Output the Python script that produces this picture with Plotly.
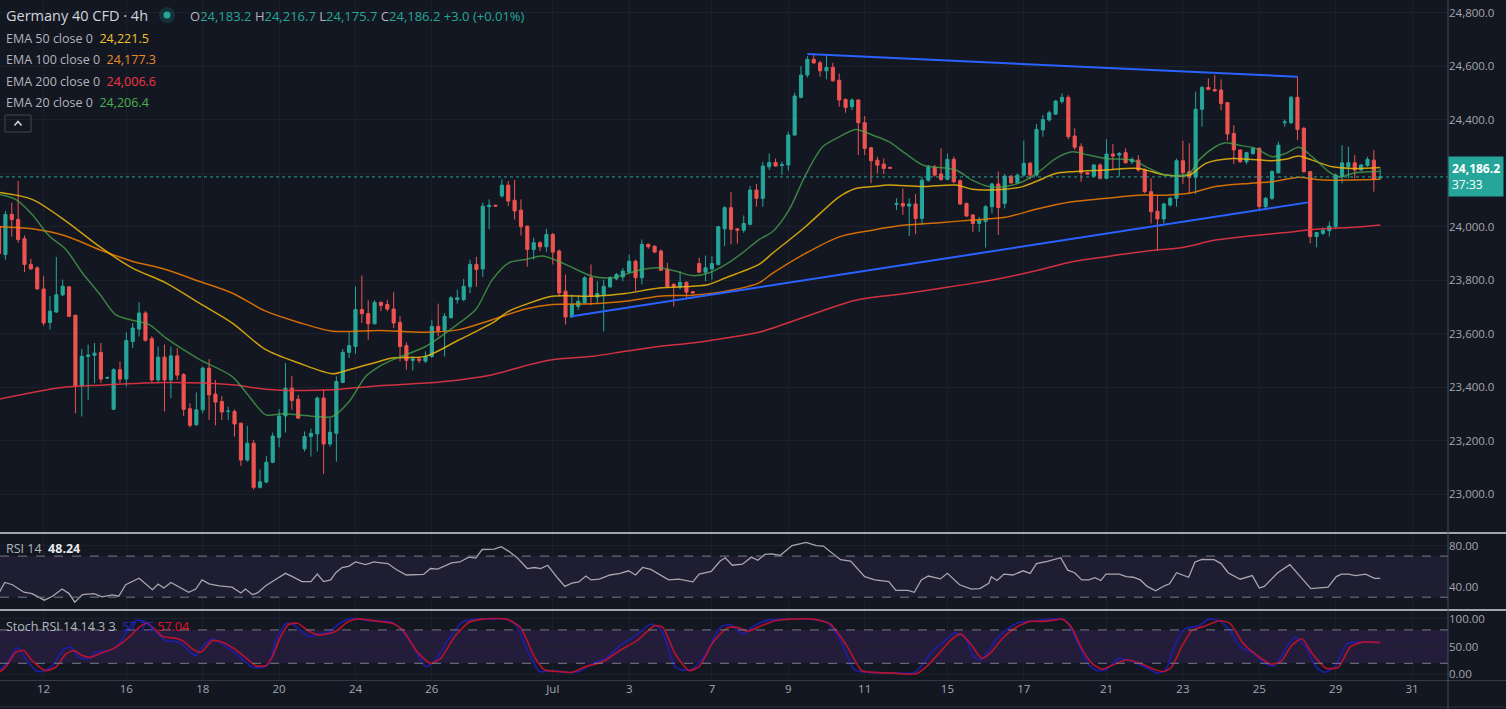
import plotly.graph_objects as go

W, H = 1506, 709

# ---------------- data ----------------
opens = [24002,23896,24046,24027,23955,23859,23846,23767,23642,23681,23745,23775,23669,23405,23515,23519,23530,23434,23317,23465,
         23430,23571,23617,23677,23581,23427,23512,23427,23517,23447,23319,23259,23315,23471,23374,23346,23309,23309,23265,23127,
         23190,23025,23045,23119,23212,23292,23396,23355,23169,23215,23225,23359,23187,23227,23417,23530,23552,23690,23675,23637,
         23717,23709,23692,23642,23555,23500,23505,23497,23515,23627,23612,23659,23727,23727,23775,23859,23842,24075,24080,24115,
         24155,24099,24062,24002,23915,23940,23925,23971,23909,23759,23662,23702,23715,23809,23737,23746,23775,23805,23812,23830,
         23871,23809,23934,23927,23909,23840,23784,23775,23792,23757,23862,23830,23842,23859,23992,24071,23992,23987,24009,24137,
         24106,24224,24240,24229,24231,24343,24484,24567,24626,24613,24583,24596,24548,24476,24449,24474,24389,24295,24249,24234,
         24222,24083,24087,24077,24085,24031,24174,24222,24197,24177,24252,24172,24087,24044,24012,24019,24075,24160,24087,24189,
         24164,24193,24237,24193,24362,24399,24421,24468,24484,24339,24299,24202,24189,24231,24181,24272,24268,24277,24243,24249,
         24212,24131,24058,24029,24081,24106,24247,24206,24185,24439,24521,24513,24511,24464,24349,24287,24243,24274,24293,24075,
         24106,24202,24389,24389,24484,24368,24206,23963,23975,23985,24000,24187,24224,24239,24212,24229,24249,24183.2]
highs = [24015,24059,24090,24171,23967,23880,23852,23815,23740,23887,23802,23777,23669,23542,23559,23565,23565,23440,23471,23496,
         23605,23640,23717,23684,23590,23552,23559,23552,23546,23452,23340,23380,23477,23505,23427,23367,23327,23317,23267,23255,
         23202,23092,23142,23230,23317,23490,23442,23371,23234,23245,23365,23392,23284,23440,23542,23605,23777,23817,23725,23725,
         23721,23727,23755,23665,23567,23515,23515,23534,23652,23712,23677,23740,23765,23805,23877,23887,24090,24102,24082,24177,
         24171,24175,24102,24005,23959,23946,23992,23977,23915,23821,23746,23742,23815,23859,23796,23802,23815,23827,23846,23896,
         23877,23952,23937,23930,23915,23865,23790,23834,23796,23757,23884,23892,23890,24002,24077,24130,23992,24042,24152,24160,
         24243,24274,24255,24243,24355,24501,24601,24638,24642,24621,24638,24613,24573,24480,24480,24476,24414,24299,24262,24255,
         24224,24106,24143,24106,24122,24187,24231,24231,24293,24274,24262,24177,24090,24047,24037,24081,24164,24206,24197,24193,
         24199,24322,24243,24384,24418,24434,24474,24499,24492,24368,24312,24205,24234,24237,24327,24309,24280,24293,24259,24268,
         24218,24181,24119,24090,24112,24255,24322,24312,24505,24526,24555,24567,24551,24467,24380,24289,24280,24299,24297,24112,
         24212,24318,24401,24489,24563,24374,24209,23981,23997,24019,24199,24305,24299,24268,24235,24262,24287,24216.7]
lows = [23865,23877,23962,23940,23830,23840,23765,23630,23615,23677,23740,23662,23302,23290,23352,23415,23415,23430,23315,23415,
        23402,23546,23590,23570,23420,23415,23309,23359,23427,23292,23249,23255,23302,23277,23257,23277,23277,23215,23105,23121,
        23017,23021,23040,23115,23175,23230,23315,23280,23159,23140,23159,23075,23177,23121,23415,23509,23525,23640,23577,23634,
        23684,23684,23621,23496,23465,23462,23490,23490,23509,23590,23515,23659,23712,23721,23752,23775,23812,23990,24075,24109,
        24077,24027,23967,23850,23877,23909,23906,23859,23740,23634,23662,23690,23712,23706,23712,23609,23771,23800,23796,23825,
        23759,23784,23917,23902,23834,23771,23702,23765,23734,23750,23827,23796,23802,23855,23927,23934,23937,23977,24005,24075,
        24075,24212,24224,24193,24209,24339,24480,24558,24608,24561,24551,24542,24449,24426,24436,24268,24268,24162,24199,24197,
        24218,24062,24044,23965,23972,24006,24168,24187,24172,24174,24162,24081,24037,23981,23981,23922,24050,23969,24068,24160,
        24162,24187,24177,24187,24337,24393,24418,24461,24327,24287,24168,24195,24187,24177,24177,24214,24187,24237,24234,24206,
        24125,24012,23910,24012,24075,24075,24160,24125,24122,24374,24511,24505,24436,24322,24234,24239,24234,24268,24062,24062,
        24100,24199,24374,24384,24324,24202,23938,23923,23969,23963,23994,24162,24181,24181,24209,24224,24131,24175.7]
closes = [23900,24046,24027,23952,23859,23842,23767,23640,23684,23745,23777,23665,23405,23515,23520,23527,23430,23435,23465,23430,
          23574,23621,23677,23575,23427,23512,23427,23517,23445,23317,23257,23315,23471,23371,23344,23307,23310,23262,23127,23190,
          23025,23046,23119,23217,23292,23396,23350,23284,23215,23227,23359,23187,23231,23421,23530,23555,23690,23675,23637,23717,
          23705,23692,23640,23552,23500,23505,23500,23515,23627,23612,23665,23734,23734,23777,23859,23840,24077,24080,24077,24155,
          24096,24059,24000,23915,23940,23925,23971,23905,23752,23662,23709,23721,23809,23740,23750,23777,23809,23821,23834,23871,
          23809,23934,23925,23905,23837,23777,23777,23792,23755,23752,23830,23846,23862,24000,24071,23990,23987,24012,24137,24106,
          24227,24240,24227,24232,24343,24489,24567,24626,24613,24583,24596,24546,24474,24446,24474,24389,24293,24247,24230,24218,
          24219,24086,24077,24085,24031,24174,24222,24193,24177,24252,24168,24085,24040,24012,24025,24075,24160,24072,24189,24164,
          24193,24237,24193,24364,24401,24426,24470,24484,24337,24297,24202,24197,24231,24181,24272,24264,24274,24239,24252,24212,
          24131,24056,24029,24085,24106,24247,24202,24185,24439,24521,24513,24508,24461,24347,24287,24243,24277,24293,24075,24106,
          24206,24305,24392,24484,24364,24206,23963,23978,23987,24002,24193,24239,24239,24212,24231,24252,24177,24186.2]

# moving averages read at sample bars
ema20_x = [0,2.6,5.2,7.9,10.5,13.1,15.7,18.3,20.9,23.6,26.2,31.4,36.6,39.3,41.9,44.5,47.1,49.7,52.4,55,57.6,59.7,61.8,67,72.3,74.9,
           77.5,80.1,82.7,85.4,89,93.2,96.3,101,103.7,106.3,108.9,111.5,114.2,116.8,119.4,121.5,124.1,126.7,129.4,132,134.6,137.2,139.8,
           142.4,145.1,150.3,152.9,155.5,158.1,160.8,163.4,166,168.6,171.2,173.9,178.1,180.7,183.3,187,188.5,191.1,192.7,194.8,197.4,200,
           202.1,204.2,206.3,208.9,210.5,213.1,215.2,217]
ema20_v = [24121,24102,24046,23965,23915,23827,23752,23671,23650,23634,23584,23505,23440,23365,23296,23300,23296,23290,23290,23346,
           23440,23477,23502,23552,23640,23690,23802,23865,23877,23890,23859,23815,23809,23840,23846,23834,23817,23827,23859,23902,23952,
           23981,24062,24193,24299,24336,24364,24343,24318,24274,24231,24212,24174,24150,24150,24168,24206,24255,24280,24268,24255,24249,
           24218,24193,24199,24249,24299,24314,24305,24293,24262,24274,24297,24262,24206,24187,24202,24206,24206.4]
ema50_x = [0,5.2,10.5,15.7,20.9,26.2,31.4,36.6,41.9,47.1,52.4,55,59.7,61.8,67,72.3,77.5,80.1,82.7,86.9,93.2,98.4,103.7,108.9,111.5,
           114.2,119.4,121.5,126.7,132,134.6,137.2,139.8,145.1,150.3,152.9,155.5,158.1,160.8,163.4,166,168.6,173.9,179,183.3,187,189.6,
           193.8,196.4,200,202.1,204.2,206.3,209.5,212.6,217]
ema50_v = [24128,24102,24021,23927,23846,23790,23715,23640,23540,23490,23450,23465,23496,23509,23515,23577,23640,23684,23709,23740,
           23740,23750,23771,23777,23784,23809,23859,23900,24000,24112,24143,24150,24156,24150,24156,24140,24137,24140,24150,24174,24199,
           24206,24212,24218,24193,24193,24237,24255,24252,24247,24252,24264,24249,24224,24218,24221.5]
ema100_x = [0,5.2,10.5,15.7,20.9,26.2,31.4,36.6,41.9,47.1,52.4,59.7,67,72.3,77.5,82.7,86.9,93.2,98.4,103.7,108.9,114.2,119.4,121.5,
            126.7,132,137.2,142.4,147.7,152.9,158.1,163.4,168.6,173.9,179,183.3,187,191.1,196.4,200,204.2,206.9,209.5,217]
ema100_v = [24000,23992,23965,23915,23871,23840,23796,23752,23684,23642,23609,23612,23605,23615,23652,23692,23709,23712,23721,23740,
            23744,23759,23790,23825,23900,23962,23987,24006,24015,24025,24035,24068,24093,24106,24118,24118,24125,24150,24162,24168,
            24185,24177,24174,24177.3]
ema200_x = [0,5.2,10.5,15.7,26.2,36.6,41.9,47.1,52.4,59.7,67,72.3,77.5,82.7,86.9,93.2,98.4,103.7,108.9,114.2,119.4,134.6,142.4,147.7,
            152.9,158.1,163.4,168.6,173.9,180.7,185.9,191.1,196.4,201.6,206.9,212.1,217]
ema200_v = [23355,23380,23400,23407,23417,23409,23392,23387,23390,23405,23415,23427,23446,23480,23502,23515,23534,23552,23565,23584,
            23605,23725,23750,23769,23788,23810,23838,23869,23888,23910,23922,23950,23965,23977,23990,23997,24006.6]

# trend lines drawn on the chart
trend_upper_x = [127, 204]
trend_upper_v = [24646, 24561]
trend_lower_x = [90, 205.7]
trend_lower_v = [23665, 24091]

# RSI 14
rsi_x = [0,0.9,2.1,3.9,5.2,7.1,8.4,9.9,11,11.9,13.1,14.9,16.2,17.8,18.8,19.9,22,24.1,25,25.9,27,28.5,29.8,30.9,31.9,33,34.6,36.6,38,
         38.7,39.8,40.6,41.9,43.5,45,46.1,47.6,49,50,51,52.1,52.9,53.9,55,56,57.6,58.9,
         59.7,61.1,62.4,64.0,66.7,67.8,68.9,71.1,72.4,73.8,74.9,75.9,77.8,78.9,80.3,81.3,83.0,84.1,85.1,86.2,87.8,88.9,90.0,91.1,92.2,
         93.0,94.3,96.0,97.6,98.9,100.0,101.1,102.4,103.5,105.2,106.8,107.9,109.0,110.0,111.9,113.3,114.1,115.2,116.8,118.2,119.2,120.3,
         121.4,122.7,124.6,126.8,128.4,129.5,132.2,133.8,136.0,137.6,139.8,140.9,
         142.8,143.8,144.9,146.0,147.9,149.0,150.9,152.8,154.1,155.5,155.9,156.8,157.9,159.3,160.9,162.0,163.0,164.7,166.3,166.8,167.9,
         169.0,170.1,171.2,172.2,173.1,173.9,176.0,177.1,178.2,179.3,180.4,181.7,183.1,183.9,185.0,186.9,187.9,189.0,190.9,192.0,193.1,
         195.0,196.9,198.0,198.8,200.9,202.8,206.1,208.8,210.1,210.9,212.0,213.1,214.7,216.1,217]
rsi_v = [34.1,44.3,42.1,34.8,33.5,27.1,30.9,37.9,33.5,25.2,32.5,33.5,30.3,32.2,30.9,42.1,48.4,37.3,42.7,38.9,44.3,38.9,34.8,37.9,46.8,
         43.0,41.1,39.8,34.1,37.9,32.5,34.1,41.1,47.5,53.2,50.0,45.2,45.2,52.5,45.2,46.8,53.8,58.9,60.2,64.3,61.7,64.3,
         63.7,62.7,57.0,51.6,52.2,57.9,57.3,63.3,64.3,69.0,68.1,76.4,76.7,79.2,73.8,69.0,57.9,58.9,57.9,61.1,48.4,40.5,43.6,44.9,50.6,
         46.8,47.5,51.6,53.2,55.7,51.6,58.9,57.0,53.2,46.8,47.5,45.9,44.9,52.5,55.1,65.2,68.4,61.1,62.1,69.0,65.9,71.6,72.2,70.6,80.2,
         83.3,80.2,79.8,66.5,65.2,50.0,46.8,45.2,36.7,
         36.7,34.8,46.8,50.6,47.8,53.2,42.1,37.9,38.3,43.6,50.0,46.2,52.5,51.6,55.7,53.2,62.7,64.9,68.1,68.4,56.3,53.8,46.8,46.8,49.0,
         46.2,52.5,52.5,50.0,49.4,46.8,40.5,36.3,41.1,43.0,53.8,49.4,64.3,66.8,66.5,62.7,53.8,47.5,51.0,38.9,40.5,53.8,61.7,38.3,39.8,
         50.0,52.5,52.5,51.0,52.5,48.4,48.24]

# Stoch RSI 14 14 3 3 : %K (blue) and %D (red)
stoch_k_x = [0,1.3,2.9,4.2,5.8,6.8,8.4,10.2,11.3,12.6,13.9,15.2,17.3,18.6,20.2,21.5,22.5,23.6,24.9,26.2,28.3,29.8,30.9,31.9,33.5,35.1,
             36.6,38.2,39.8,41.4,42.4,43.5,45,46.1,47.1,48.7,50.3,51.8,53.4,55,56.3,58.1,
             59.7,61.3,62.9,65.1,67.0,68.4,70.5,72.7,74.9,77.6,79.7,81.3,83.0,84.9,86.8,88.9,91.1,93.3,95.4,97.6,99.7,102.5,104.1,106.2,
             107.3,108.9,111.1,113.3,114.9,116.8,118.7,120.9,123.6,127.3,130.1,132.2,134.4,136.5,139.8,
             141.4,143.6,144.6,146.8,148.4,150.1,151.7,153.0,154.1,155.2,156.6,158.2,160.3,163.0,165.2,166.8,167.9,169.5,171.2,172.5,
             173.9,176.0,178.2,180.4,182.0,183.3,184.7,186.3,188.5,190.1,191.7,193.4,195.0,197.1,198.8,200.4,202.0,203.6,205.3,206.9,
             208.2,209.9,211.8,213.9,217]
stoch_k_v = [6.8,21.8,48.8,27.8,6.8,5.6,15.8,45.8,48.8,30.8,27.8,39.8,42.8,51.8,78.8,96.8,96.8,89.6,72.8,60.8,57.8,42.8,33.8,48.8,
             63.8,54.8,42.8,27.8,12.8,12.8,18.8,60.8,90.8,90.8,81.8,68,72.8,75.8,90.8,99.8,99.8,96.8,
             95.3,95.3,84.7,49.4,14.1,23,61.2,93.5,99.4,99.4,99.4,87.6,43.5,5.3,7.1,3.6,5.3,20,28.8,52.4,67.1,90.6,78.8,14.1,8.3,9.4,
             37.7,84.7,89.4,72.9,87.6,97.6,99.4,99.4,93.5,61.2,8.3,3.6,2.4,
             2.4,2.4,11.2,43.5,58.2,74.1,67.1,34.7,25.9,37.7,61.2,80,93.5,96.5,99.4,100,93.5,55.3,17.1,7.1,8.3,28.8,23,11.2,2.4,8.3,
             52.4,81.8,87.6,99.4,96.5,78.8,49.4,37.7,20,15.3,43.5,67.1,49.4,14.1,3.6,14.1,55.3,58.2,57.75]
stoch_d_x = [0,1,2.6,3.9,5.2,7.3,8.9,10.5,11.8,13.1,14.4,15.7,17.8,19.1,20.7,22,23.3,24.6,25.7,27.5,28.8,30.4,31.7,33.5,35.1,36.6,
             38.7,40.3,41.9,42.9,44.2,45.5,46.9,48.4,50,51.6,53.1,54.7,56.3,58.1,
             59.7,61.9,63.5,65.7,67.8,69.4,71.6,73.8,75.9,79.7,81.9,84.1,85.7,87.8,90.0,92.2,94.9,97.6,100.3,103.0,104.3,106.2,108.4,
             110.0,112.2,114.4,116.0,117.6,119.8,121.9,124.6,127.9,130.6,133.3,135.5,137.6,140.9,
             141.4,144.1,145.7,147.9,149.5,151.1,152.8,154.4,155.7,157.6,159.8,162.0,164.1,165.8,167.1,168.5,170.1,171.7,173.3,175.0,
             177.1,179.3,181.4,183.1,184.2,185.8,187.4,189.6,191.7,193.4,195.5,197.6,199.8,201.4,203.1,204.7,206.3,208.5,210.4,212.3,
             214.2,217]
stoch_d_v = [3.8,12.8,39.8,42.8,24.8,6.8,12.8,36.8,42.8,33.8,30.8,36.8,45.8,54.8,69.8,84.8,92,80,68,65.6,60.8,45.8,39.8,60.8,57.8,
             48.8,30.8,15.8,15.8,30.8,66.8,89.6,92,80,71.6,72.8,78.8,93.8,99.8,98,
             95.3,91.8,78.8,40.6,20,28.8,68.2,93.5,99.4,99.4,84.7,31.8,8.3,5.3,3.6,14.1,23,43.5,61.2,87.6,84.7,37.7,7.1,14.1,58.2,83.5,
             84.7,77.6,87.6,96.5,99.4,99.4,90.6,49.4,7.1,3.6,2.4,
             1.2,1.2,14.1,40.6,61.2,72.9,52.4,28.8,37.7,64.1,84.7,95.3,95.3,97.6,99.4,84.7,46.5,20,9.4,17.1,25.9,20,9.4,5.3,12.9,49.4,
             78.8,87.6,96.5,91.8,55.3,34.7,18.8,23,52.4,64.1,37.7,11.2,12.9,49.4,58.2,57.04]

tick_idx = [7, 20, 32, 44, 56, 68, 87, 99, 112, 124, 136, 149, 161, 174, 186, 198, 210, 222]
tick_labels = ["12", "16", "18", "20", "24", "26", "Jul", "3", "7", "9", "11", "15", "17", "21", "23", "25", "29", "31"]

price_ticks = [23000, 23200, 23400, 23600, 23800, 24000, 24200, 24400, 24600, 24800]
last_price = 24186.2

# ---------------- styling ----------------
BG = "#131722"
GRID = "#1c202b"
TXT = "#a3a6af"
UP, DN = "#26a69a", "#ef5350"
FONT = "Open Sans, Noto Sans, sans-serif"

def px(x):
    return x / W

def py(y):
    return 1 - y / H

XR = 1448 / W
dom_main = [py(532), 1.0]
dom_rsi = [py(609), py(534)]
dom_sto = [py(680), py(611)]

bars = list(range(len(closes)))

fig = go.Figure()

fig.add_trace(go.Scatter(x=ema200_x, y=ema200_v, mode="lines", line=dict(color="rgba(242,54,69,0.85)", width=1.5, shape="spline", smoothing=0.8), hoverinfo="skip", yaxis="y"))
fig.add_trace(go.Scatter(x=ema100_x, y=ema100_v, mode="lines", line=dict(color="rgba(245,124,0,0.85)", width=1.5, shape="spline", smoothing=0.8), hoverinfo="skip", yaxis="y"))
fig.add_trace(go.Scatter(x=ema50_x, y=ema50_v, mode="lines", line=dict(color="rgba(240,185,11,0.85)", width=1.5, shape="spline", smoothing=0.8), hoverinfo="skip", yaxis="y"))
fig.add_trace(go.Scatter(x=ema20_x, y=ema20_v, mode="lines", line=dict(color="rgba(76,175,80,0.7)", width=1.5, shape="spline", smoothing=0.8), hoverinfo="skip", yaxis="y"))

fig.add_trace(go.Candlestick(
    x=bars, open=opens, high=highs, low=lows, close=closes,
    increasing=dict(line=dict(color=UP, width=1), fillcolor=UP),
    decreasing=dict(line=dict(color=DN, width=1), fillcolor=DN),
    whiskerwidth=0, yaxis="y", xaxis="x"))

fig.add_trace(go.Scatter(x=trend_upper_x, y=trend_upper_v, mode="lines", line=dict(color="#2962ff", width=2), hoverinfo="skip", yaxis="y"))
fig.add_trace(go.Scatter(x=trend_lower_x, y=trend_lower_v, mode="lines", line=dict(color="#2962ff", width=2), hoverinfo="skip", yaxis="y"))

fig.add_trace(go.Scatter(x=rsi_x, y=rsi_v, mode="lines", line=dict(color="#a9a6ad", width=1.3), hoverinfo="skip", yaxis="y2"))
fig.add_trace(go.Scatter(x=stoch_k_x, y=stoch_k_v, mode="lines", line=dict(color="#1d1da6", width=1.7, shape="spline", smoothing=0.6), hoverinfo="skip", yaxis="y3"))
fig.add_trace(go.Scatter(x=stoch_d_x, y=stoch_d_v, mode="lines", line=dict(color="#b3132f", width=1.7, shape="spline", smoothing=0.6), hoverinfo="skip", yaxis="y3"))

shapes = []
# indicator bands
shapes.append(dict(type="rect", xref="paper", x0=0, x1=XR, yref="y2", y0=30, y1=70, fillcolor="rgba(126,87,194,0.10)", line=dict(width=0), layer="below"))
shapes.append(dict(type="rect", xref="paper", x0=0, x1=XR, yref="y3", y0=20, y1=80, fillcolor="rgba(126,60,194,0.16)", line=dict(width=0), layer="below"))
for lvl in (30, 70):
    shapes.append(dict(type="line", xref="paper", x0=0, x1=XR, yref="y2", y0=lvl, y1=lvl, line=dict(color="#787b86", width=1, dash="dash")))
for lvl in (20, 80):
    shapes.append(dict(type="line", xref="paper", x0=0, x1=XR, yref="y3", y0=lvl, y1=lvl, line=dict(color="#787b86", width=1, dash="dash")))
# current price dotted line
shapes.append(dict(type="line", xref="paper", x0=0, x1=XR, yref="y", y0=last_price, y1=last_price, line=dict(color=UP, width=1, dash="dot")))
# pane separators / borders
shapes.append(dict(type="line", xref="paper", yref="paper", x0=0, x1=1, y0=py(533), y1=py(533), line=dict(color="#d6d7dc", width=1.5)))
shapes.append(dict(type="line", xref="paper", yref="paper", x0=0, x1=1, y0=py(610), y1=py(610), line=dict(color="#d6d7dc", width=1.5)))
shapes.append(dict(type="line", xref="paper", yref="paper", x0=0, x1=1, y0=py(680.5), y1=py(680.5), line=dict(color="#363a45", width=1)))
shapes.append(dict(type="line", xref="paper", yref="paper", x0=0, x1=1, y0=py(707), y1=py(707), line=dict(color="#2a2e39", width=1)))
shapes.append(dict(type="line", xref="paper", yref="paper", x0=XR, x1=XR, y0=0, y1=1, line=dict(color="#4a4e59", width=1)))
# header dot
shapes.append(dict(type="circle", xref="paper", yref="paper", x0=px(159), x1=px(175), y0=py(23), y1=py(7), fillcolor="rgba(38,166,154,0.18)", line=dict(width=0)))
shapes.append(dict(type="circle", xref="paper", yref="paper", x0=px(163.5), x1=px(170.5), y0=py(18.5), y1=py(11.5), fillcolor="#26a69a", line=dict(width=0)))
# collapse button
shapes.append(dict(type="rect", xref="paper", yref="paper", x0=px(5), x1=px(31), y0=py(132), y1=py(115), line=dict(color="#434651", width=1), fillcolor="rgba(0,0,0,0)"))
shapes.append(dict(type="path", xref="paper", yref="paper",
                   path=f"M {px(14.5)} {py(125.5)} L {px(18)} {py(121.5)} L {px(21.5)} {py(125.5)}",
                   line=dict(color="#d1d4dc", width=1.5)))

ann = []
def text(x, y, s, size=12.5, color=TXT, anchor="left"):
    ann.append(dict(xref="paper", yref="paper", x=px(x), y=py(y), text=s, showarrow=False,
                    xanchor=anchor, yanchor="middle", font=dict(family=FONT, size=size, color=color)))

text(4, 16, "Germany 40 CFD · 4h", size=14.5, color="#d1d4dc")
T = "#26a69a"
text(188, 16, f"O<span style='color:{T}'>24,183.2</span> H<span style='color:{T}'>24,216.7</span> "
              f"L<span style='color:{T}'>24,175.7</span> C<span style='color:{T}'>24,186.2</span> "
              f"<span style='color:{T}'>+3.0 (+0.01%)</span>", size=13, color="#b2b5be")
text(4, 38, "EMA 50 close 0  <span style='color:#f5c02c'>24,221.5</span>", color="#b2b5be")
text(4, 59.5, "EMA 100 close 0  <span style='color:#f08a24'>24,177.3</span>", color="#b2b5be")
text(4, 81, "EMA 200 close 0  <span style='color:#f23645'>24,006.6</span>", color="#b2b5be")
text(4, 102.5, "EMA 20 close 0  <span style='color:#4caf50'>24,206.4</span>", color="#b2b5be")
text(4, 548, "RSI 14  <span style='color:#e8e8ec'><b>48.24</b></span>", color="#b2b5be")
text(4, 626, "Stoch RSI 14 14 3 3  <span style='color:#2424c8'>57.75</span> <span style='color:#e0102e'>57.04</span>", color="#b2b5be")

# last price label on the axis
ann.append(dict(xref="paper", yref="y", x=XR, y=last_price, text="<b>24,186.2</b><br>37:33", showarrow=False,
                xanchor="left", yanchor="middle", align="left", bgcolor="#26a69a", borderpad=3,
                font=dict(family=FONT, size=12, color="#ffffff")))

axis_font = dict(family=FONT, size=11.5, color=TXT)
fig.update_layout(
    width=W, height=H, margin=dict(l=0, r=0, t=0, b=0),
    paper_bgcolor=BG, plot_bgcolor=BG, showlegend=False,
    xaxis=dict(domain=[0, XR], range=[0.15, 227.65], anchor="y3", tickvals=tick_idx, ticktext=tick_labels,
               showgrid=True, gridcolor=GRID, gridwidth=1, zeroline=False, showline=False, ticks="",
               tickfont=axis_font, rangeslider=dict(visible=False), fixedrange=True),
    yaxis=dict(domain=dom_main, range=[22858, 24848], side="right", anchor="x", tickvals=price_ticks,
               tickformat=",.1f", showgrid=True, gridcolor=GRID, zeroline=False, showline=False, ticks="",
               tickfont=axis_font),
    yaxis2=dict(domain=dom_rsi, range=[18.5, 91.5], side="right", anchor="x", tickvals=[40, 80],
                tickformat=".2f", showgrid=True, gridcolor=GRID, zeroline=False, showline=False, ticks="",
                tickfont=axis_font),
    yaxis3=dict(domain=dom_sto, range=[-10, 114], side="right", anchor="x", tickvals=[0, 50, 100],
                tickformat=".2f", showgrid=True, gridcolor=GRID, zeroline=False, showline=False, ticks="",
                tickfont=axis_font),
    shapes=shapes, annotations=ann,
)

fig.write_html("out.html")
